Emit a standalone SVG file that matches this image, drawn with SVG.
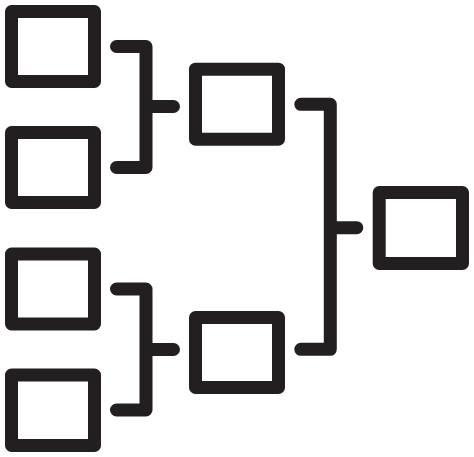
<svg xmlns="http://www.w3.org/2000/svg" width="474" height="457" viewBox="0 0 474 457">
<style>
.box{fill:none;stroke:#231f20;stroke-width:13;stroke-linejoin:round}
.con{fill:none;stroke:#231f20;stroke-width:13;stroke-linecap:round;stroke-linejoin:round}
</style>
<rect width="474" height="457" fill="#ffffff"/>
<g id="connectors">
<path class="con" d="M116.5,46.5 H146 V167.5 H116.5 M146,106.5 H173.5"/>
<path class="con" d="M116.5,289 H146 V410 H116.5 M146,349.5 H173.5"/>
<path class="con" d="M300.8,104.3 H330.3 V349.3 H300.8 M330.3,227.7 H356.8"/>
</g>
<g id="r1a"><rect class="box" x="11.5" y="11.5" width="83" height="70"/></g>
<g id="r1b"><rect class="box" x="11.5" y="132.5" width="83" height="70"/></g>
<g id="r1c"><rect class="box" x="11.5" y="254" width="83" height="70"/></g>
<g id="r1d"><rect class="box" x="11.5" y="375" width="83" height="70.5"/></g>
<g id="r2a"><rect class="box" x="195.5" y="69.2" width="83" height="70"/></g>
<g id="r2b"><rect class="box" x="195.5" y="317.5" width="83" height="70"/></g>
<g id="final"><rect class="box" x="379.2" y="192.5" width="83.3" height="71"/></g>
</svg>
